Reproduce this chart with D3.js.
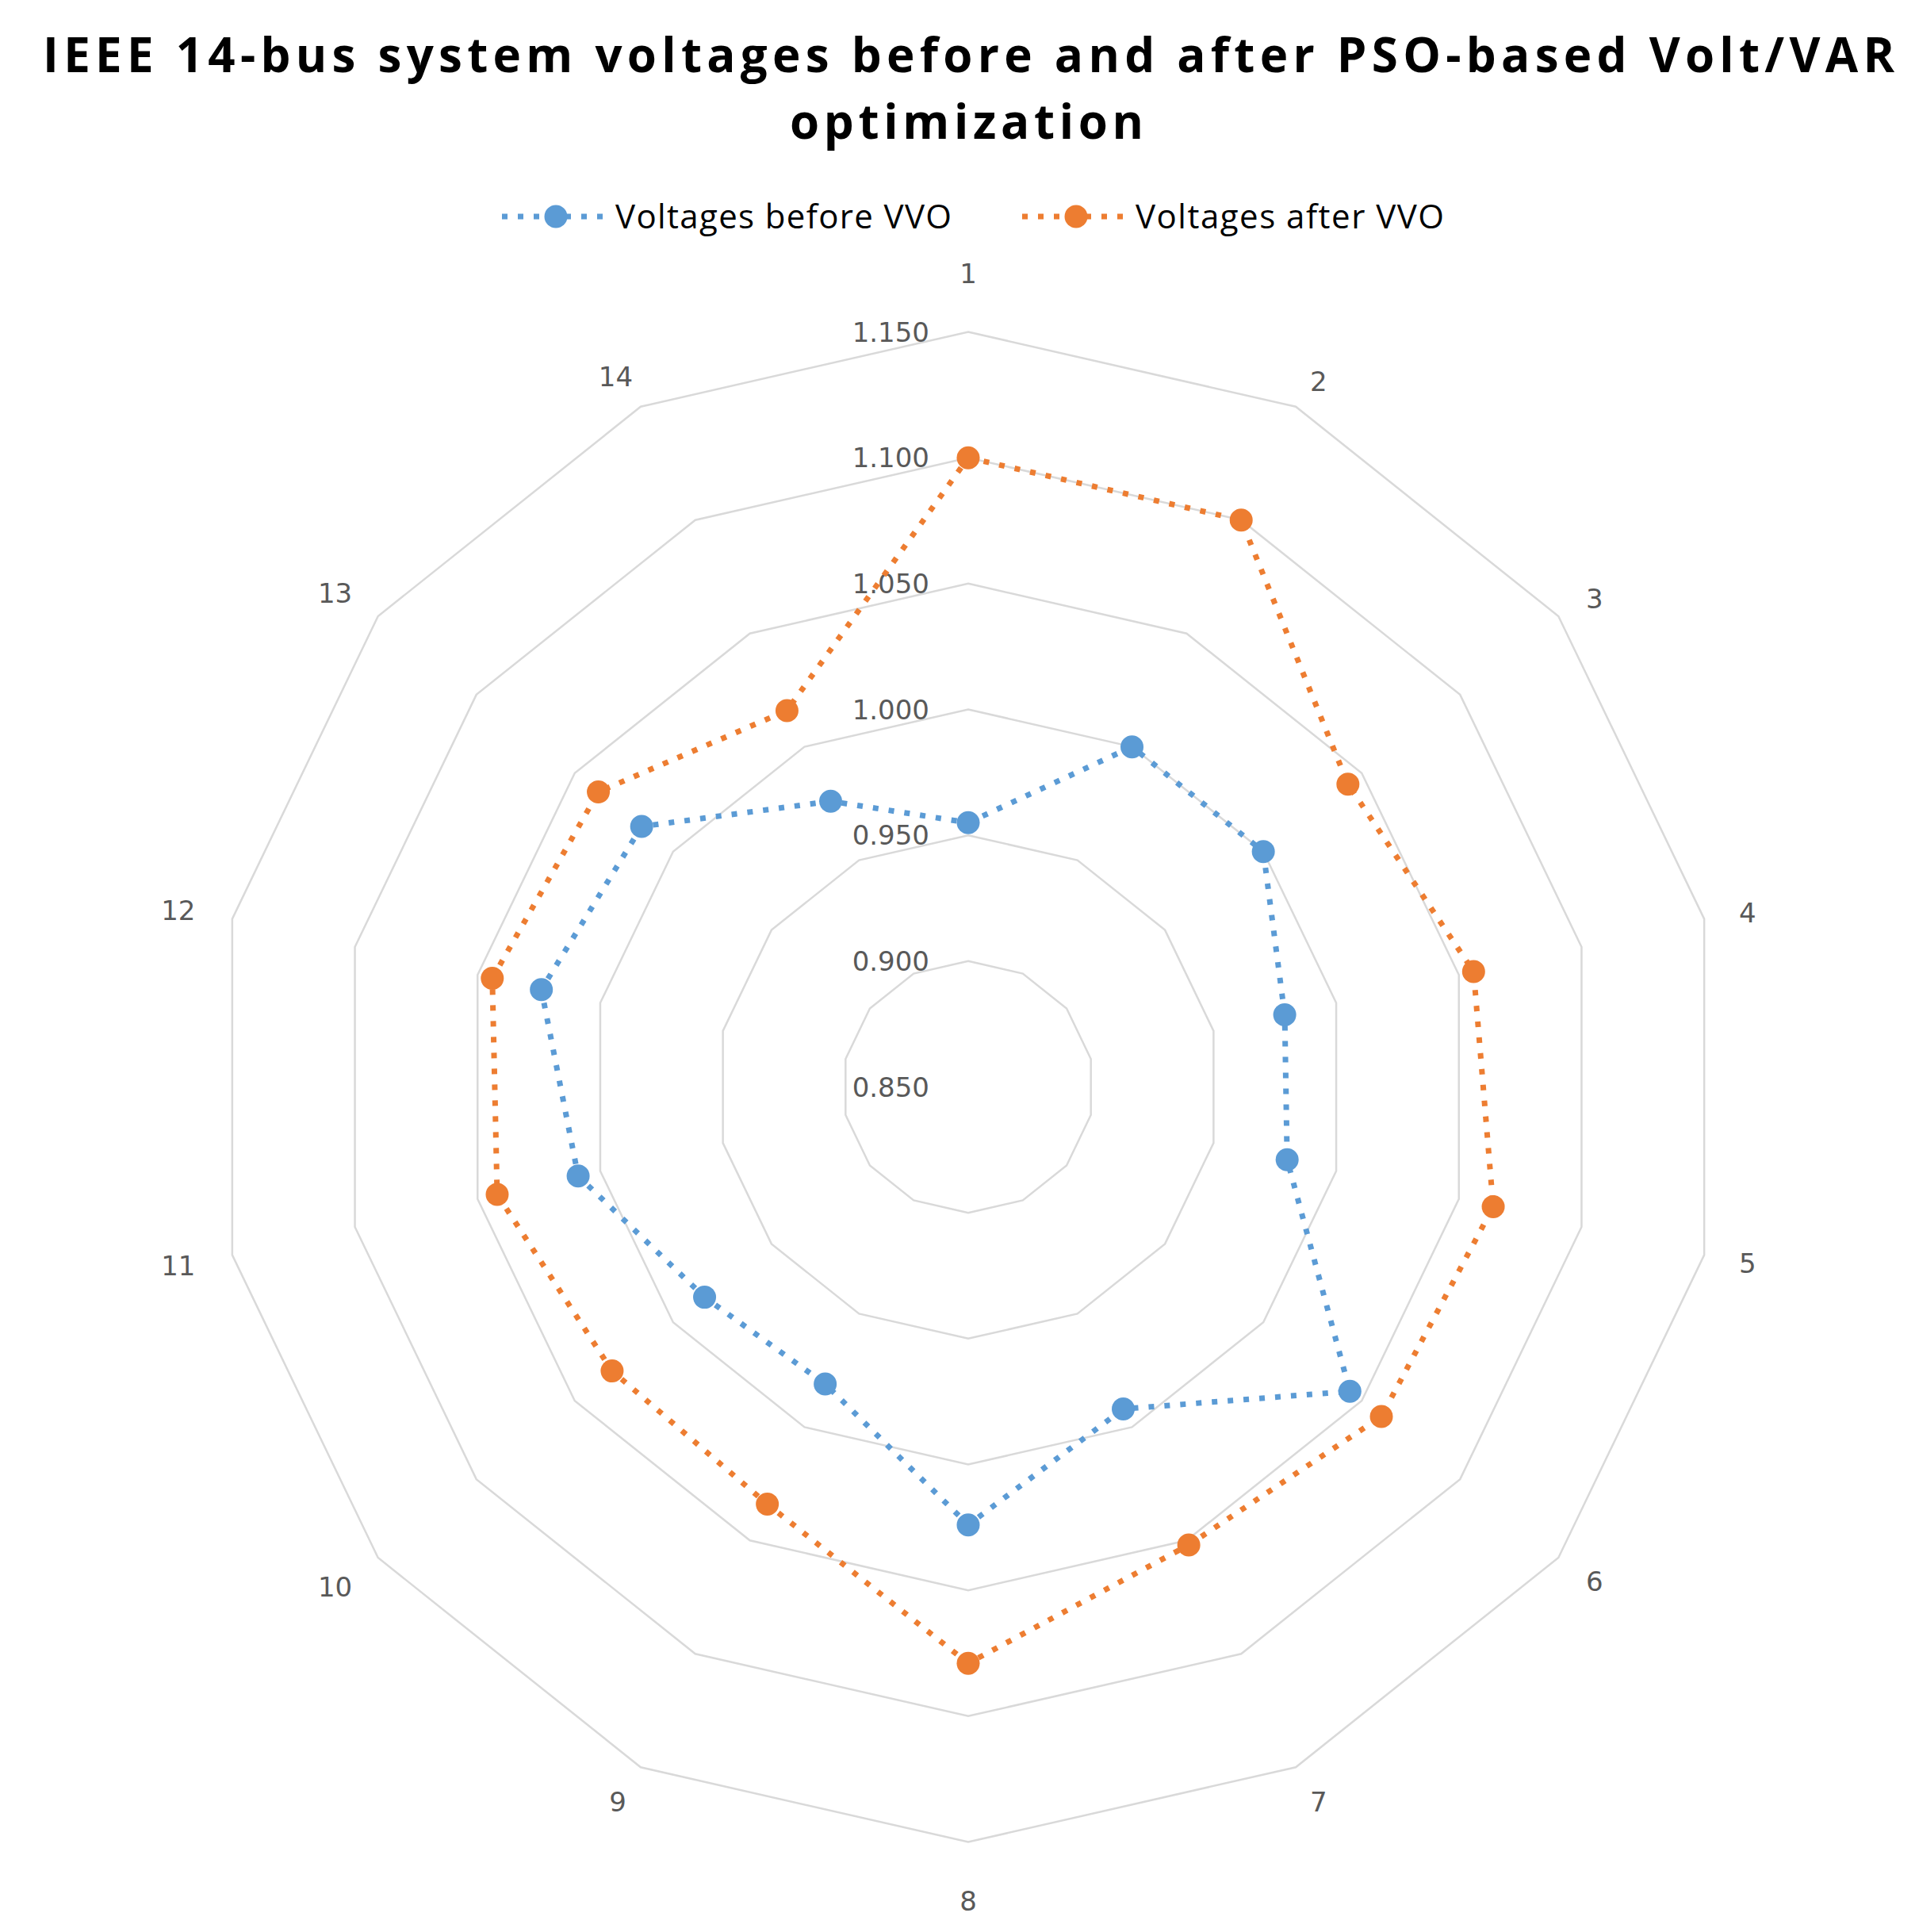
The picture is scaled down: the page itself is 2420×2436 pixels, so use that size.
<!doctype html>
<html>
<head>
  <meta charset="utf-8">
  <script src="https://d3js.org/d3.v7.min.js"></script>
  <style>
    body { margin: 0; background: #fff; }
    svg { display: block; }
  </style>
</head>
<body>
<div id="chart"></div>
<script>
  // bus voltages (p.u.)
  var buses = ["1","2","3","4","5","6","7","8","9","10","11","12","13","14"];
  var before = [0.955, 1.000, 1.000, 0.979, 0.980, 1.044, 0.992, 1.024, 0.981, 0.984, 1.009, 1.024, 1.016, 0.976];
  var after  = [1.100, 1.100, 1.043, 1.056, 1.064, 1.060, 1.052, 1.079, 1.034, 1.031, 1.042, 1.044, 1.038, 1.016];
  var seriesNames = ["Voltages before VVO", "Voltages after VVO"];
  var seriesColors = ["#5B9BD5", "#ED7D31"];
  var tickValues = [0.85, 0.90, 0.95, 1.00, 1.05, 1.10, 1.15];
  var titleLines = ["IEEE 14-bus system voltages before and after PSO-based Volt/VAR", "optimization"];

  var W = 2420, H = 2436;
  var cx = 1221, cy = 1370.5, R = 952;

  var svg = d3.select("#chart").append("svg")
      .attr("width", W)
      .attr("height", H);
  svg.append("rect").attr("width", W).attr("height", H).attr("fill", "#fff");

  // title
  svg.append("text")
      .attr("x", 54).attr("y", 91)
      .attr("textLength", 2335).attr("lengthAdjust", "spacing")
      .style("font-family", "'Open Sans', sans-serif")
      .style("font-weight", "bold")
      .style("font-size", "60px")
      .attr("fill", "#000")
      .text(titleLines[0]);
  svg.append("text")
      .attr("x", W / 2 + 9).attr("y", 175)
      .attr("text-anchor", "middle")
      .attr("textLength", 446).attr("lengthAdjust", "spacing")
      .style("font-family", "'Open Sans', sans-serif")
      .style("font-weight", "bold")
      .style("font-size", "60px")
      .attr("fill", "#000")
      .text(titleLines[1]);

  // legend
  var legendX = [633, 1289];
  var legend = svg.selectAll(".legend").data(seriesNames).enter().append("g")
      .attr("class", "legend")
      .attr("transform", function(d, i) { return "translate(" + legendX[i] + ",273)"; });
  legend.append("line")
      .attr("x1", 0).attr("x2", 133).attr("y1", 0).attr("y2", 0)
      .attr("stroke", function(d, i) { return seriesColors[i]; })
      .attr("stroke-width", 7)
      .attr("stroke-dasharray", "7 13");
  legend.append("circle")
      .attr("cx", 68).attr("cy", 0).attr("r", 14.5)
      .attr("fill", function(d, i) { return seriesColors[i]; });
  legend.append("text")
      .attr("x", 143).attr("y", 15)
      .attr("textLength", function(d, i) { return i === 0 ? 424 : 389; })
      .attr("lengthAdjust", "spacing")
      .style("font-family", "'Open Sans', sans-serif")
      .style("font-size", "42px")
      .attr("fill", "#000")
      .text(function(d) { return d; });

  var g = svg.append("g").attr("transform", "translate(" + cx + "," + cy + ")");

  var r = d3.scaleLinear().domain([0.85, 1.15]).range([0, R]);
  var angle = d3.scaleLinear().domain([0, buses.length]).range([0, 2 * Math.PI]);

  // grid rings
  var ring = function(v) {
    return d3.lineRadial()
      .angle(function(d, i) { return angle(i); })
      .radius(r(v))
      .curve(d3.curveLinearClosed)(buses);
  };
  g.selectAll(".ring").data(tickValues.slice(1)).enter().append("path")
      .attr("class", "ring")
      .attr("d", ring)
      .attr("fill", "none")
      .attr("stroke", "#D9D9D9")
      .attr("stroke-width", 2.5);

  // value labels
  g.selectAll(".tick").data(tickValues).enter().append("text")
      .attr("class", "tick")
      .attr("x", -49)
      .attr("y", function(d) { return -r(d); })
      .attr("dy", "0.36em")
      .attr("text-anchor", "end")
      .style("font-family", "'DejaVu Sans', sans-serif")
      .style("font-size", "34px")
      .attr("fill", "#595959")
      .text(d3.format(".3f"));

  // category labels
  g.selectAll(".cat").data(buses).enter().append("text")
      .attr("class", "cat")
      .attr("transform", function(d, i) {
        var a = angle(i);
        var sn = Math.sin(a), cs = Math.cos(a);
        var s = Math.abs(sn), c = Math.abs(cs);
        var off = 48 + (d.length - 1) * 14 * s + (c > 0.999 ? 26 : 0);
        var rr = R + off;
        var x = rr * sn + (s > 0.01 ? Math.sign(sn) * 8 : 0);
        var y = -rr * cs + (c < 0.999 ? Math.max(0, cs) * 12 : 0);
        return "translate(" + x + "," + y + ")";
      })
      .attr("dy", "0.36em")
      .attr("text-anchor", "middle")
      .style("font-family", "'DejaVu Sans', sans-serif")
      .style("font-size", "34px")
      .attr("fill", "#595959")
      .text(function(d) { return d; });

  // series
  var data = [before, after];
  var radial = d3.lineRadial()
      .angle(function(d, i) { return angle(i); })
      .radius(function(d) { return r(d); })
      .curve(d3.curveLinearClosed);

  var series = g.selectAll(".series").data(data).enter().append("g").attr("class", "series");
  series.append("path")
      .attr("d", radial)
      .attr("fill", "none")
      .attr("stroke", function(d, i) { return seriesColors[i]; })
      .attr("stroke-width", 7)
      .attr("stroke-dasharray", "7 13");
  series.each(function(vals, si) {
    d3.select(this).selectAll("circle").data(vals).enter().append("circle")
      .attr("cx", function(d, i) { return r(d) * Math.sin(angle(i)); })
      .attr("cy", function(d, i) { return -r(d) * Math.cos(angle(i)); })
      .attr("r", 14.5)
      .attr("fill", seriesColors[si]);
  });
</script>
</body>
</html>
